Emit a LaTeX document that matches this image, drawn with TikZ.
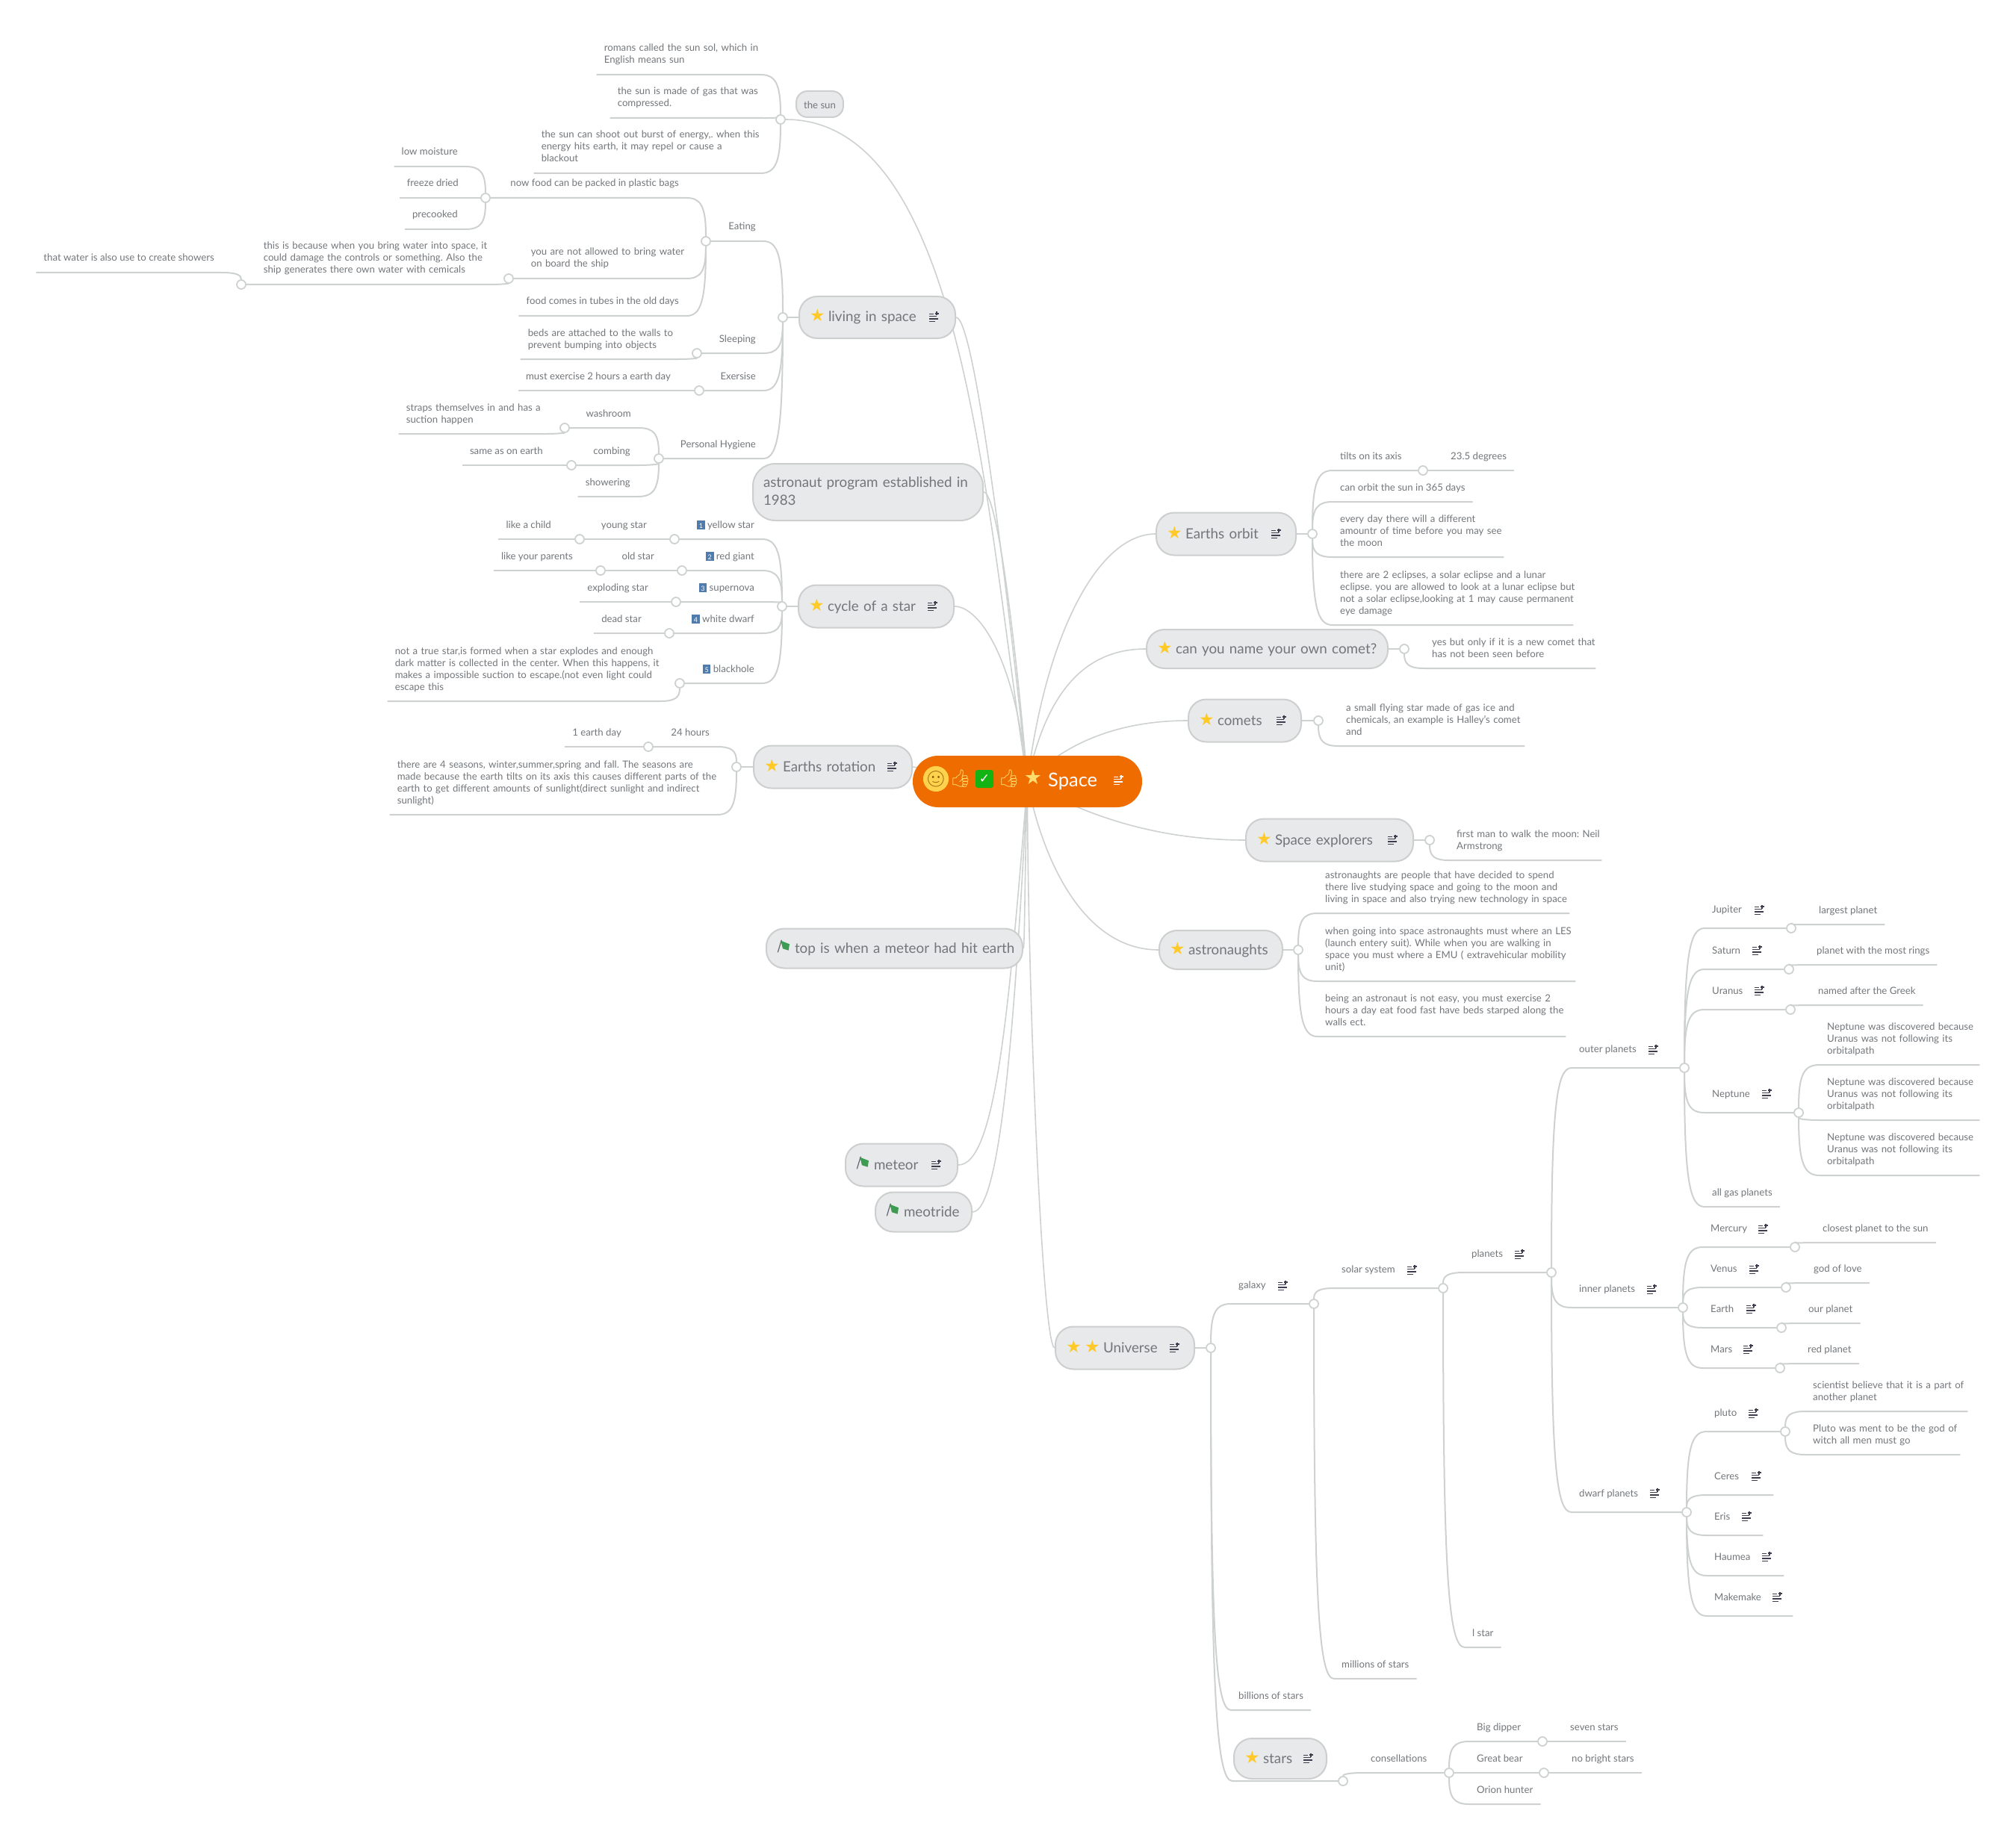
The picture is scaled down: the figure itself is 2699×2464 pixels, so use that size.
\documentclass[tikz,border=0pt]{standalone}
\usepackage{fontspec}
\usetikzlibrary{backgrounds,calc}
\setmainfont{Lato}
\newfontfamily\symbfont{DejaVu Sans}
\newfontfamily\emojifont{Noto Emoji}

\definecolor{linecol}{HTML}{CDD1CF}
\definecolor{pillfill}{HTML}{E8E9EB}
\definecolor{pilledge}{HTML}{CCCFCE}
\definecolor{inkcol}{HTML}{72767A}
\definecolor{noteink}{HTML}{3D3D4E}
\definecolor{rootcol}{HTML}{EE6C00}
\definecolor{stargold}{HTML}{FFC928}
\definecolor{thumbgold}{HTML}{FFDC6E}
\definecolor{smilegold}{HTML}{FFD24D}
\definecolor{smileink}{HTML}{8A5A00}
\definecolor{keyblue}{HTML}{4F7CAD}
\definecolor{flaggreen}{HTML}{3E9B52}
\definecolor{checkgreen}{HTML}{12B312}

\newcommand{\smallfont}{\fontsize{13.2}{16}\selectfont}
\newcommand{\pillfont}{\fontsize{18.8}{24}\selectfont}
\newcommand{\pillstar}{\makebox[25pt][l]{\fontsize{23}{24}\symbfont\textcolor{stargold}{★}}}
\newcommand{\numkey}[1]{{\setlength{\fboxsep}{1.5pt}\colorbox{keyblue}{\makebox[7.5pt]{\rule{0pt}{8.5pt}\fontsize{9}{9}\selectfont\textcolor{white}{#1}}}}}

\tikzset{
  link/.style={draw=linecol,line width=2pt,to path={.. controls ($(\tikztostart)!.8!(\tikztostart |- \tikztotarget)$) and ($(\tikztotarget)!.75!(\tikztostart |- \tikztotarget)$) .. (\tikztotarget)}},
  rootlink/.style={draw=linecol,line width=1.6pt},
  knob/.style={circle,draw=linecol,fill=white,line width=1.8pt,inner sep=0pt,minimum size=12pt},
  leaf/.style={font=\smallfont,text=inkcol,inner xsep=10pt,inner ysep=10pt,align=left,
    execute at begin node={\rightskip=-30pt plus 1fil\relax\strut},execute at end node={\strut}},
  leafl/.style={leaf,anchor=south east},
  leafr/.style={leaf,anchor=south west},
  leafbl/.style={leafl,inner ysep=15.5pt},
  leafbr/.style={leafr,inner ysep=15.5pt},
  pill/.style={rounded corners=24pt,draw=pilledge,fill=pillfill,line width=2pt,font=\pillfont,text=inkcol,
    inner xsep=14pt,inner ysep=0pt,align=left,execute at begin node={\rule[-7pt]{0pt}{26pt}}},
  notes/.pic={
    \draw[line width=1.3pt] (-6,-4.5)--(0,-4.5) (-6,-1.2)--(4,-1.2) (-6,2.1)--(6,2.1) (-6,5.4)--(2,5.4);
    \draw[line width=1.1pt] (4,-7.5)--(4,-2.5) (1.5,-5)--(6.5,-5);
  },
  flag/.pic={
    \draw[line width=1.2pt,color=noteink!80] (-7.7,8.3)--(-2.7,-8.3);
    \fill[flaggreen] (-3.7,-7.3)--(8,-2.7)--(6.7,5.7)--(-1,3.3)--cycle;
  }
}

\begin{document}
\frenchspacing
\begin{tikzpicture}[x=1pt,y=-1pt]
    \useasboundingbox (0,0) rectangle (2699,2464);

    % The root and its first level
    \node[rounded corners=34pt,fill=rootcol,minimum width=307pt,minimum height=69pt,inner sep=0pt] (root) at (1375.5,1046.5) {};
    \node[circle,fill=smilegold,inner sep=0pt,minimum size=21pt,text=smileink,font=\fontsize{21}{21}\emojifont] (rsmile) at (1253,1043) {🙂};
    \node[text=thumbgold,inner sep=0pt,font=\fontsize{23}{23}\emojifont] (rthumba) at (1286,1043) {👍};
    \node[rounded corners=3pt,fill=checkgreen,text=white,inner sep=0pt,minimum size=24pt,font=\fontsize{17}{17}\symbfont\bfseries] (rcheck) at (1318,1043) {✓};
    \node[text=thumbgold,inner sep=0pt,font=\fontsize{23}{23}\emojifont] (rthumbb) at (1351,1043) {👍};
    \node[text=thumbgold,inner sep=0pt,font=\fontsize{27}{27}\symbfont] (rstar) at (1383,1041) {★};
    \node[text=white,inner sep=0pt,font=\fontsize{25.5}{28}\selectfont,anchor=west] (rlabel) at (1403,1048) {\strut Space};
    \pic[color=white] at (1497,1045) {notes};

    \node[pill,font=\smallfont,inner xsep=10pt,minimum height=35pt,rounded corners=15pt,execute at begin node={\strut}] (sun) at (1097.5,139.5) {the sun};
    \node[pill,text width=181pt,minimum height=56pt] (living) at (1174.5,425) {\pillstar living in space};
    \pic[color=noteink] at (1250,425) {notes};
    \node[pill,text width=280pt,minimum height=76pt,rounded corners=30pt] (program) at (1162,659) {\mbox{astronaut program established in}\\1983\strut};
    \node[pill,text width=180pt,minimum height=57pt] (cycle) at (1173,812) {\pillstar cycle of a star};
    \pic[color=noteink] at (1248,812) {notes};
    \node[pill,text width=184pt,minimum height=57pt] (rotation) at (1115,1027) {\pillstar Earths rotation};
    \pic[color=noteink] at (1194,1027) {notes};
    \node[pill,text width=315pt,minimum height=53pt] (meteorhit) at (1197.5,1270) {\mbox{\hspace*{24pt}top is when a meteor had hit earth}};
    \pic at (1049,1267) {flag};
    \node[pill,text width=122pt,minimum height=57pt] (meteor) at (1207,1560) {\hspace*{24pt}meteor};
    \pic at (1155,1557) {flag};
    \pic[color=noteink] at (1253,1560) {notes};
    \node[pill,text width=101pt,minimum height=53pt] (meotride) at (1236.5,1623) {\hspace*{24pt}meotride};
    \pic at (1195,1620) {flag};

    \node[pill,text width=159pt,minimum height=57pt] (earths) at (1641.5,715) {\pillstar Earths orbit};
    \pic[color=noteink] at (1708,715) {notes};
    \node[pill,text width=295pt,minimum height=52pt] (cometname) at (1696.5,869) {\mbox{\pillstar can you name your own comet?}};
    \node[pill,text width=123pt,minimum height=57pt] (comets) at (1666.5,965) {\pillstar comets};
    \pic[color=noteink] at (1715,965) {notes};
    \node[pill,text width=196pt,minimum height=57pt] (explorers) at (1780,1125) {\pillstar Space explorers};
    \pic[color=noteink] at (1864,1125) {notes};
    \node[pill,text width=137pt,minimum height=52pt] (astronaughts) at (1634.5,1272) {\pillstar astronaughts};
    \node[pill,text width=158pt,minimum height=57pt] (universe) at (1506,1805) {\pillstar\pillstar Universe};
    \pic[color=noteink] at (1572,1805) {notes};
    \node[pill,text width=96pt,minimum height=54pt] (stars) at (1714,2355) {\pillstar stars};
    \pic[color=noteink] at (1751,2355) {notes};

    % Knobs
    \node[knob] (ksun) at (1045,160) {};
    \node[knob] (kliving) at (1048,425) {};
    \node[knob] (keating) at (945,323) {};
    \node[knob] (kfood) at (650,265) {};
    \node[knob] (kwater) at (681,373) {};
    \node[knob] (kshowers) at (323,381) {};
    \node[knob] (ksleeping) at (933,473) {};
    \node[knob] (kexersise) at (936,523) {};
    \node[knob] (khygiene) at (882,614) {};
    \node[knob] (kwashroom) at (756,573) {};
    \node[knob] (kcombing) at (765,623) {};
    \node[knob] (kcycle) at (1047,812) {};
    \node[knob] (kyellow) at (903,722) {};
    \node[knob] (kyoung) at (776,722) {};
    \node[knob] (kred) at (913,764) {};
    \node[knob] (kold) at (804,764) {};
    \node[knob] (ksupernova) at (905,806) {};
    \node[knob] (kdwarf) at (896,848) {};
    \node[knob] (kblackhole) at (910,915) {};
    \node[knob] (krotation) at (986,1027) {};
    \node[knob] (khours) at (868,1000) {};
    \node[knob] (kearths) at (1757,715) {};
    \node[knob] (ktilts) at (1905,630) {};
    \node[knob] (kcometname) at (1880,869) {};
    \node[knob] (kcomets) at (1765,965) {};
    \node[knob] (kexplorers) at (1914,1125) {};
    \node[knob] (kastronaughts) at (1738,1272) {};
    \node[knob] (kuniverse) at (1621,1805) {};
    \node[knob] (kgalaxy) at (1759,1746) {};
    \node[knob] (ksolar) at (1932,1725) {};
    \node[knob] (kplanets) at (2077,1704) {};
    \node[knob] (kouter) at (2255,1430) {};
    \node[knob] (kjupiter) at (2398,1243) {};
    \node[knob] (ksaturn) at (2395,1298) {};
    \node[knob] (kuranus) at (2397,1352) {};
    \node[knob] (kneptune) at (2408,1490) {};
    \node[knob] (kinner) at (2253,1751) {};
    \node[knob] (kmercury) at (2403,1670) {};
    \node[knob] (kvenus) at (2391,1724) {};
    \node[knob] (kearth) at (2385,1778) {};
    \node[knob] (kmars) at (2383,1832) {};
    \node[knob] (kdwarfs) at (2258,2025) {};
    \node[knob] (kpluto) at (2390,1917) {};
    \node[knob] (kstars) at (1798,2385) {};
    \node[knob] (kconsellations) at (1940,2374) {};
    \node[knob] (kdipper) at (2065,2332) {};
    \node[knob] (kbear) at (2067,2374) {};
    \coordinate (starsbend) at (1650,2385);

    % The sun
    \node[leafl,text width=199pt] (sol) at (1018,100) {romans called the sun sol, which in\\English means sun};
    \node[leafl,text width=181pt] (madegas) at (1018,158) {the sun is made of gas that was\\compressed.};
    \node[leafl,text width=283pt] (burst) at (1018,232) {the sun can shoot out burst of energy,. when this\\energy hits earth, it may repel or cause a\\blackout};

    % Living in space
    \node[leafl] (eating) at (1022,323) {Eating};
    \node[leafl] (packed) at (919,265) {now food can be packed in plastic bags};
    \node[leafl] (moisture) at (623,223) {low moisture};
    \node[leafl] (freeze) at (624,265) {freeze dried};
    \node[leafl] (precooked) at (623,307) {precooked};
    \node[leafl,text width=198pt] (water) at (919,373) {you are not allowed to bring water\\on board the ship};
    \node[leafl,text width=292pt] (because) at (655,381) {this is because when you bring water into space, it\\could damage the controls or something. Also the\\ship generates there own water with cemicals};
    \node[leafl] (showers) at (297,365) {that water is also use to create showers};
    \node[leafl] (tubes) at (919,423) {food comes in tubes in the old days};
    \node[leafl] (sleeping) at (1022,473) {Sleeping};
    \node[leafl,text width=192pt] (beds) at (909,481) {beds are attached to the walls to\\prevent bumping into objects};
    \node[leafl] (exersise) at (1022,523) {Exersise};
    \node[leafl] (exercise) at (908,523) {must exercise 2 hours a earth day};
    \node[leafl] (hygiene) at (1022,614) {Personal Hygiene};
    \node[leafl] (washroom) at (855,573) {washroom};
    \node[leafl,text width=176pt] (straps) at (730,581) {straps themselves in and has a\\suction happen};
    \node[leafl] (combing) at (854,623) {combing};
    \node[leafl] (sameearth) at (737,623) {same as on earth};
    \node[leafl] (showering) at (854,665) {showering};

    % Cycle of a star
    \node[leafl] (yellow) at (1020,722) {\numkey{1} yellow star};
    \node[leafl] (young) at (876,722) {young star};
    \node[leafl] (child) at (748,722) {like a child};
    \node[leafl] (red) at (1020,764) {\numkey{2} red giant};
    \node[leafl] (old) at (886,764) {old star};
    \node[leafl] (parents) at (777,764) {like your parents};
    \node[leafl] (supernova) at (1020,806) {\numkey{3} supernova};
    \node[leafl] (exploding) at (878,806) {exploding star};
    \node[leafl] (dwarf) at (1020,848) {\numkey{4} white dwarf};
    \node[leafl] (dead) at (869,848) {dead star};
    \node[leafl] (blackhole) at (1020,915) {\numkey{5} blackhole};
    \node[leafl,text width=345pt] (truestar) at (884,939) {not a true star,is formed when a star explodes and enough\\dark matter is collected in the center. When this happens, it\\makes a impossible suction to escape.(not even light could\\escape this};

    % Earths rotation
    \node[leafl] (hours) at (960,1000) {24 hours};
    \node[leafl] (earthday) at (842,1000) {1 earth day};
    \node[leafl,text width=418pt] (seasons) at (960,1091) {there are 4 seasons, winter,summer,spring and fall. The seasons are\\made because the earth tilts on its axis this causes different parts of the\\earth to get different amounts of sunlight(direct sunlight and indirect\\sunlight)};

    % Earths orbit and the comets
    \node[leafr] (tilts) at (1784,630) {tilts on its axis};
    \node[leafr] (degrees) at (1932,630) {23.5 degrees};
    \node[leafr] (orbit) at (1784,672) {can orbit the sun in 365 days};
    \node[leafr,text width=209pt] (everyday) at (1784,746) {every day there will a different\\amountr of time before you may see\\the moon};
    \node[leafr,text width=302pt] (eclipses) at (1784,837) {there are 2 eclipses, a solar eclipse and a lunar\\eclipse. you are allowed to look at a lunar eclipse but\\not a solar eclipse,looking at 1 may cause permanent\\eye damage};
    \node[leafr,text width=209pt] (newcomet) at (1907,895) {yes but only if it is a new comet that\\has not been seen before};
    \node[leafr,text width=229pt] (flying) at (1792,999) {a small flying star made of gas ice and\\chemicals, an example is Halley's comet\\and};
    \node[leafr,text width=184pt] (armstrong) at (1940,1152) {first man to walk the moon: Neil\\Armstrong};
    \node[leafr,text width=317pt] (spend) at (1764,1223) {astronaughts are people that have decided to spend\\there live studying space and going to the moon and\\living in space and also trying new technology in space};
    \node[leafr,text width=325pt] (suit) at (1764,1314) {when going into space astronaughts must where an LES\\(launch entery suit). While when you are walking in\\space you must where a EMU ( extravehicular mobility\\unit)};
    \node[leafr,text width=312pt] (easy) at (1764,1388) {being an astronaut is not easy, you must exercise 2\\hours a day eat food fast have beds starped along the\\walls ect.};

    % Universe
    \node[leafbr] (galaxy) at (1648,1746) {galaxy};
    \pic[color=noteink] at (1717,1722) {notes};
    \node[leafbr] (solar) at (1786,1725) {solar system};
    \pic[color=noteink] at (1890,1701) {notes};
    \node[leafbr] (planets) at (1960,1704) {planets};
    \pic[color=noteink] at (2034,1680) {notes};
    \node[leafr] (lstar) at (1961,2206) {l star};
    \node[leafr] (millions) at (1786,2248) {millions of stars};
    \node[leafr] (billions) at (1648,2290) {billions of stars};
    \node[leafbr] (outer) at (2104,1430) {outer planets};
    \pic[color=noteink] at (2213,1406) {notes};
    \node[leafbr] (jupiter) at (2282,1243) {Jupiter};
    \pic[color=noteink] at (2355,1219) {notes};
    \node[leafr] (largest) at (2425,1238) {largest planet};
    \node[leafbr] (saturn) at (2282,1298) {Saturn};
    \pic[color=noteink] at (2352,1273) {notes};
    \node[leafr] (rings) at (2422,1292) {planet with the most rings};
    \node[leafbr] (uranus) at (2282,1352) {Uranus};
    \pic[color=noteink] at (2355,1327) {notes};
    \node[leafr] (greek) at (2424,1346) {named after the Greek};
    \node[leafbr] (neptune) at (2282,1490) {Neptune};
    \pic[color=noteink] at (2365,1465) {notes};
    \node[leafr,text width=194pt] (nepa) at (2436,1426) {Neptune was discovered because\\Uranus was not following its\\orbitalpath};
    \node[leafr,text width=194pt] (nepb) at (2436,1500) {Neptune was discovered because\\Uranus was not following its\\orbitalpath};
    \node[leafr,text width=194pt] (nepc) at (2436,1574) {Neptune was discovered because\\Uranus was not following its\\orbitalpath};
    \node[leafr] (allgas) at (2282,1616) {all gas planets};
    \node[leafbr] (inner) at (2104,1751) {inner planets};
    \pic[color=noteink] at (2211,1727) {notes};
    \node[leafbr] (mercury) at (2280,1670) {Mercury};
    \pic[color=noteink] at (2360,1646) {notes};
    \node[leafr] (closest) at (2430,1664) {closest planet to the sun};
    \node[leafbr] (venus) at (2280,1724) {Venus};
    \pic[color=noteink] at (2348,1700) {notes};
    \node[leafr] (love) at (2418,1718) {god of love};
    \node[leafbr] (earth) at (2280,1778) {Earth};
    \pic[color=noteink] at (2344,1753) {notes};
    \node[leafr] (ourplanet) at (2411,1772) {our planet};
    \node[leafbr] (mars) at (2280,1832) {Mars};
    \pic[color=noteink] at (2340,1807) {notes};
    \node[leafr] (redplanet) at (2410,1826) {red planet};
    \node[leafbr] (dwarfs) at (2104,2025) {dwarf planets};
    \pic[color=noteink] at (2215,2000) {notes};
    \node[leafbr] (pluto) at (2285,1917) {pluto};
    \pic[color=noteink] at (2347,1893) {notes};
    \node[leafr,text width=197pt] (scientist) at (2417,1890) {scientist believe that it is a part of\\another planet};
    \node[leafr,text width=187pt] (plutogod) at (2417,1948) {Pluto was ment to be the god of\\witch all men must go};
    \node[leafbr,text width=69pt] (ceres) at (2285,2002) {Ceres};
    \pic[color=noteink] at (2351,1977) {notes};
    \node[leafbr,text width=55pt] (eris) at (2285,2056) {Eris};
    \pic[color=noteink] at (2338,2031) {notes};
    \node[leafbr,text width=83pt] (haumea) at (2285,2110) {Haumea};
    \pic[color=noteink] at (2365,2085) {notes};
    \node[leafbr,text width=95pt] (makemake) at (2285,2164) {Makemake};
    \pic[color=noteink] at (2379,2139) {notes};

    % Stars
    \node[leafr] (consellations) at (1825,2374) {consellations};
    \node[leafr] (dipper) at (1967,2332) {Big dipper};
    \node[leafr] (seven) at (2092,2332) {seven stars};
    \node[leafr] (bear) at (1967,2374) {Great bear};
    \node[leafr] (bright) at (2094,2374) {no bright stars};
    \node[leafr] (orion) at (1967,2416) {Orion hunter};

    % Links, under everything
    \begin{scope}[on background layer]
        \draw[rootlink] (ksun) .. controls +(250,0) and (1320,700) .. (root.center);
        \draw[rootlink] (living.east) .. controls (1305,425) and (1350,800) .. (root.center);
        \draw[rootlink] (program.east) .. controls (1335,659) and (1360,860) .. (root.center);
        \draw[rootlink] (cycle.east) .. controls (1310,812) and (1360,880) .. (root.center);
        \draw[rootlink] (rotation.east) -- (root.center);
        \draw[rootlink] (meteorhit.east) .. controls (1372,1270) and (1372,1150) .. (root.center);
        \draw[rootlink] (meteor.east) .. controls (1332,1560) and (1350,1366) .. (root.center);
        \draw[rootlink] (meotride.east) .. controls (1341,1623) and (1360,1346) .. (root.center);
        \draw[rootlink] (root.center) .. controls (1400,850) and (1470,715) .. (earths.west);
        \draw[rootlink] (root.center) .. controls (1400,930) and (1450,869) .. (cometname.west);
        \draw[rootlink] (root.center) .. controls (1420,1000) and (1490,965) .. (comets.west);
        \draw[rootlink] (root.center) .. controls (1430,1080) and (1530,1125) .. (explorers.west);
        \draw[rootlink] (root.center) .. controls (1395,1150) and (1450,1272) .. (astronaughts.west);
        \draw[rootlink] (root.center) .. controls (1375,1300) and (1395,1805) .. (universe.west);

        \draw[link] (ksun) to (sol.south east) -- (sol.south west);
        \draw[link] (ksun) to (madegas.south east) -- (madegas.south west);
        \draw[link] (ksun) to (burst.south east) -- (burst.south west);

        \draw[link] (living.west) -- (kliving);
        \draw[link] (kliving) to (eating.south east) -- (keating);
        \draw[link] (keating) to (packed.south east) -- (kfood);
        \draw[link] (kfood) to (moisture.south east) -- (moisture.south west);
        \draw[link] (kfood) to (freeze.south east) -- (freeze.south west);
        \draw[link] (kfood) to (precooked.south east) -- (precooked.south west);
        \draw[link] (keating) to (water.south east) -- (kwater);
        \draw[link] (kwater) to (because.south east) -- (kshowers);
        \draw[link] (kshowers) to (showers.south east) -- (showers.south west);
        \draw[link] (keating) to (tubes.south east) -- (tubes.south west);
        \draw[link] (kliving) to (sleeping.south east) -- (ksleeping);
        \draw[link] (ksleeping) to (beds.south east) -- (beds.south west);
        \draw[link] (kliving) to (exersise.south east) -- (kexersise);
        \draw[link] (kexersise) -- (exercise.south west);
        \draw[link] (kliving) to (hygiene.south east) -- (khygiene);
        \draw[link] (khygiene) to (washroom.south east) -- (kwashroom);
        \draw[link] (kwashroom) to (straps.south east) -- (straps.south west);
        \draw[link] (khygiene) to (combing.south east) -- (kcombing);
        \draw[link] (kcombing) -- (sameearth.south west);
        \draw[link] (khygiene) to (showering.south east) -- (showering.south west);

        \draw[link] (cycle.west) -- (kcycle);
        \draw[link] (kcycle) to (yellow.south east) -- (kyellow);
        \draw[link] (kyellow) -- (kyoung);
        \draw[link] (kyoung) -- (child.south west);
        \draw[link] (kcycle) to (red.south east) -- (kred);
        \draw[link] (kred) -- (kold);
        \draw[link] (kold) -- (parents.south west);
        \draw[link] (kcycle) to (supernova.south east) -- (ksupernova);
        \draw[link] (ksupernova) -- (exploding.south west);
        \draw[link] (kcycle) to (dwarf.south east) -- (kdwarf);
        \draw[link] (kdwarf) -- (dead.south west);
        \draw[link] (kcycle) to (blackhole.south east) -- (kblackhole);
        \draw[link] (kblackhole) to (truestar.south east) -- (truestar.south west);

        \draw[link] (rotation.west) -- (krotation);
        \draw[link] (krotation) to (hours.south east) -- (khours);
        \draw[link] (khours) -- (earthday.south west);
        \draw[link] (krotation) to (seasons.south east) -- (seasons.south west);

        \draw[link] (earths.east) -- (kearths);
        \draw[link] (kearths) to (tilts.south west) -- (ktilts);
        \draw[link] (ktilts) -- (degrees.south east);
        \draw[link] (kearths) to (orbit.south west) -- (orbit.south east);
        \draw[link] (kearths) to (everyday.south west) -- (everyday.south east);
        \draw[link] (kearths) to (eclipses.south west) -- (eclipses.south east);
        \draw[link] (cometname.east) -- (kcometname);
        \draw[link] (kcometname) to (newcomet.south west) -- (newcomet.south east);
        \draw[link] (comets.east) -- (kcomets);
        \draw[link] (kcomets) to (flying.south west) -- (flying.south east);
        \draw[link] (explorers.east) -- (kexplorers);
        \draw[link] (kexplorers) to (armstrong.south west) -- (armstrong.south east);
        \draw[link] (astronaughts.east) -- (kastronaughts);
        \draw[link] (kastronaughts) to (spend.south west) -- (spend.south east);
        \draw[link] (kastronaughts) to (suit.south west) -- (suit.south east);
        \draw[link] (kastronaughts) to (easy.south west) -- (easy.south east);

        \draw[link] (universe.east) -- (kuniverse);
        \draw[link] (kuniverse) to (galaxy.south west) -- (kgalaxy);
        \draw[link] (kgalaxy) to (solar.south west) -- (ksolar);
        \draw[link] (ksolar) to (planets.south west) -- (kplanets);
        \draw[link] (ksolar) to (lstar.south west) -- (lstar.south east);
        \draw[link] (kgalaxy) to (millions.south west) -- (millions.south east);
        \draw[link] (kuniverse) to (billions.south west) -- (billions.south east);
        \draw[link] (kplanets) to (outer.south west) -- (kouter);
        \draw[link] (kouter) to (jupiter.south west) -- (kjupiter);
        \draw[link] (kjupiter) to (largest.south west) -- (largest.south east);
        \draw[link] (kouter) to (saturn.south west) -- (ksaturn);
        \draw[link] (ksaturn) to (rings.south west) -- (rings.south east);
        \draw[link] (kouter) to (uranus.south west) -- (kuranus);
        \draw[link] (kuranus) to (greek.south west) -- (greek.south east);
        \draw[link] (kouter) to (neptune.south west) -- (kneptune);
        \draw[link] (kneptune) to (nepa.south west) -- (nepa.south east);
        \draw[link] (kneptune) to (nepb.south west) -- (nepb.south east);
        \draw[link] (kneptune) to (nepc.south west) -- (nepc.south east);
        \draw[link] (kouter) to (allgas.south west) -- (allgas.south east);
        \draw[link] (kplanets) to (inner.south west) -- (kinner);
        \draw[link] (kinner) to (mercury.south west) -- (kmercury);
        \draw[link] (kmercury) to (closest.south west) -- (closest.south east);
        \draw[link] (kinner) to (venus.south west) -- (kvenus);
        \draw[link] (kvenus) to (love.south west) -- (love.south east);
        \draw[link] (kinner) to (earth.south west) -- (kearth);
        \draw[link] (kearth) to (ourplanet.south west) -- (ourplanet.south east);
        \draw[link] (kinner) to (mars.south west) -- (kmars);
        \draw[link] (kmars) to (redplanet.south west) -- (redplanet.south east);
        \draw[link] (kplanets) to (dwarfs.south west) -- (kdwarfs);
        \draw[link] (kdwarfs) to (pluto.south west) -- (kpluto);
        \draw[link] (kpluto) to (scientist.south west) -- (scientist.south east);
        \draw[link] (kpluto) to (plutogod.south west) -- (plutogod.south east);
        \draw[link] (kdwarfs) to (ceres.south west) -- (ceres.south east);
        \draw[link] (kdwarfs) to (eris.south west) -- (eris.south east);
        \draw[link] (kdwarfs) to (haumea.south west) -- (haumea.south east);
        \draw[link] (kdwarfs) to (makemake.south west) -- (makemake.south east);

        \draw[link] (kuniverse) to (starsbend) -- (kstars);
        \draw[link] (kstars) to (consellations.south west) -- (kconsellations);
        \draw[link] (kconsellations) to (dipper.south west) -- (kdipper);
        \draw[link] (kdipper) -- (seven.south east);
        \draw[link] (kconsellations) to (bear.south west) -- (kbear);
        \draw[link] (kbear) -- (bright.south east);
        \draw[link] (kconsellations) to (orion.south west) -- (orion.south east);
    \end{scope}
\end{tikzpicture}
\end{document}
